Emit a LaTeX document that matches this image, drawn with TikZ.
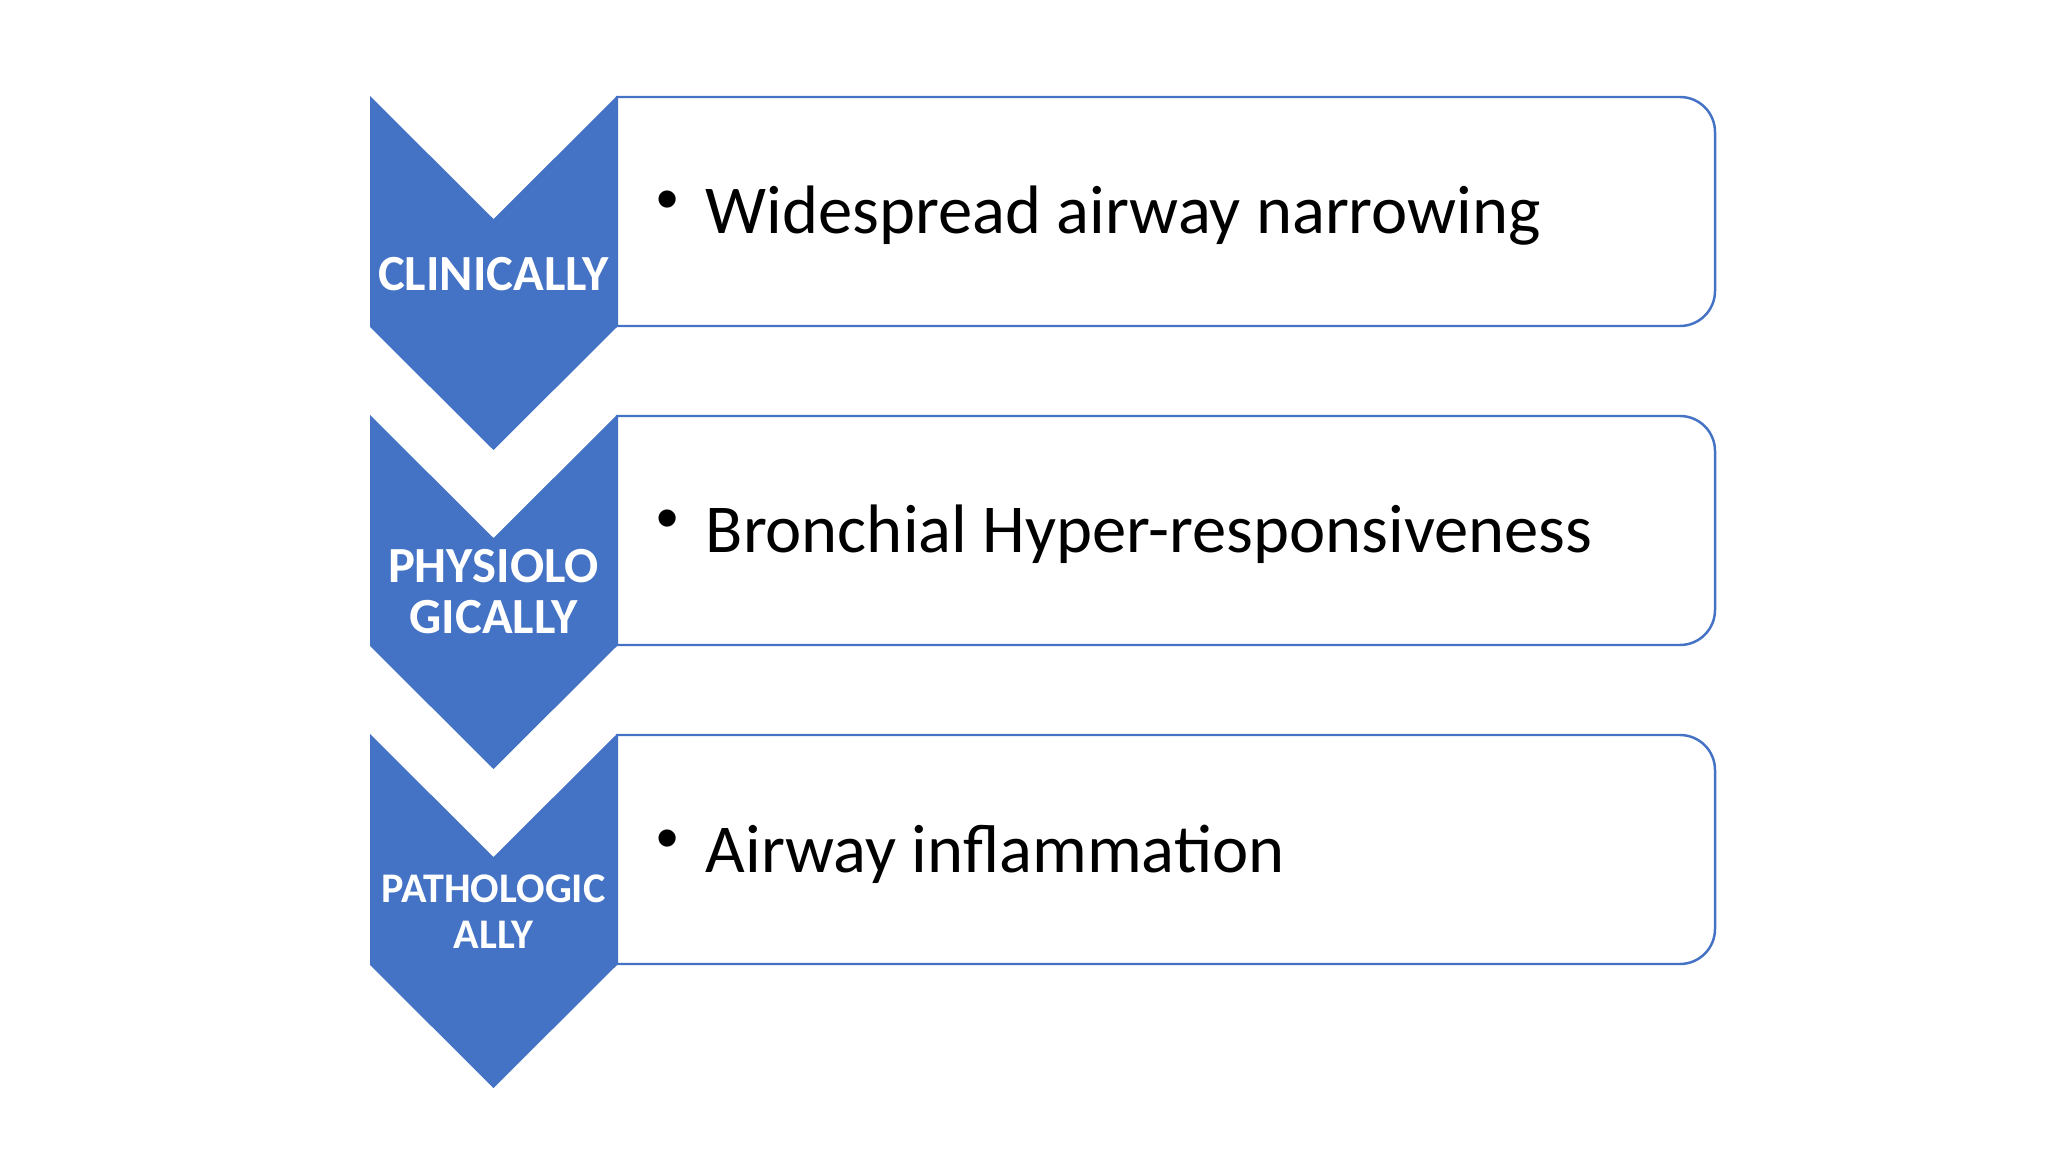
\documentclass[tikz,border=0pt]{standalone}
\usepackage{fontspec}
\setmainfont{Carlito}
\newfontfamily\bulletfont{Liberation Sans}
\definecolor{chevblue}{HTML}{4472C4}
\tikzset{
  chev/.style={fill=chevblue},
  panel/.style={draw=chevblue, line width=0.7pt, fill=white},
  stagelabel/.style={text=white, align=center, inner sep=0pt},
  itemtext/.style={font=\fontsize{19.5}{24}\selectfont, anchor=base west, inner sep=0pt},
  itembullet/.style={font=\bulletfont\fontsize{18}{22}\selectfont, anchor=base west, inner sep=0pt},
}
\begin{document}
\begin{tikzpicture}[x=0.01cm, y=-0.01cm]
  \useasboundingbox (0,0) rectangle (2048,1152);
  % panels first, chevrons over their left ends
  \foreach \d in {0,319,638} {
    \draw[panel] (617,97+\d) -- (1680,97+\d)
      arc[start angle=-90, end angle=0, radius=35] -- (1715,291+\d)
      arc[start angle=0, end angle=90, radius=35] -- (617,326+\d) -- cycle;
    \fill[chev] (370,96+\d) -- (493.5,219+\d) -- (617,96+\d) -- (617,327+\d)
      -- (493.5,450+\d) -- (370,327+\d) -- cycle;
  }
  % stage labels
  \node[stagelabel, font=\bfseries\fontsize{14.4}{14.5}\selectfont] (clin) at (493.5,274) {CLINICALLY};
  \node[stagelabel, font=\bfseries\fontsize{14.4}{14.5}\selectfont] (phys) at (493.5,592) {PHYSIOLO\\GICALLY};
  \node[stagelabel, font=\bfseries\fontsize{12}{13.1}\selectfont] (path) at (493.5,911.5) {PATHOLOGIC\\ALLY};
  % bullet items
  \node[itembullet] (bul1) at (655.5,221) {•};
  \node[itemtext] (txt1) at (705,234) {Widespread airway narrowing};
  \node[itembullet] (bul2) at (655.5,540) {•};
  \node[itemtext] (txt2) at (705,553) {Bronchial Hyper-responsiveness};
  \node[itembullet] (bul3) at (655.5,859) {•};
  \node[itemtext] (txt3) at (705,872) {Airway inflammation};
\end{tikzpicture}
\end{document}
